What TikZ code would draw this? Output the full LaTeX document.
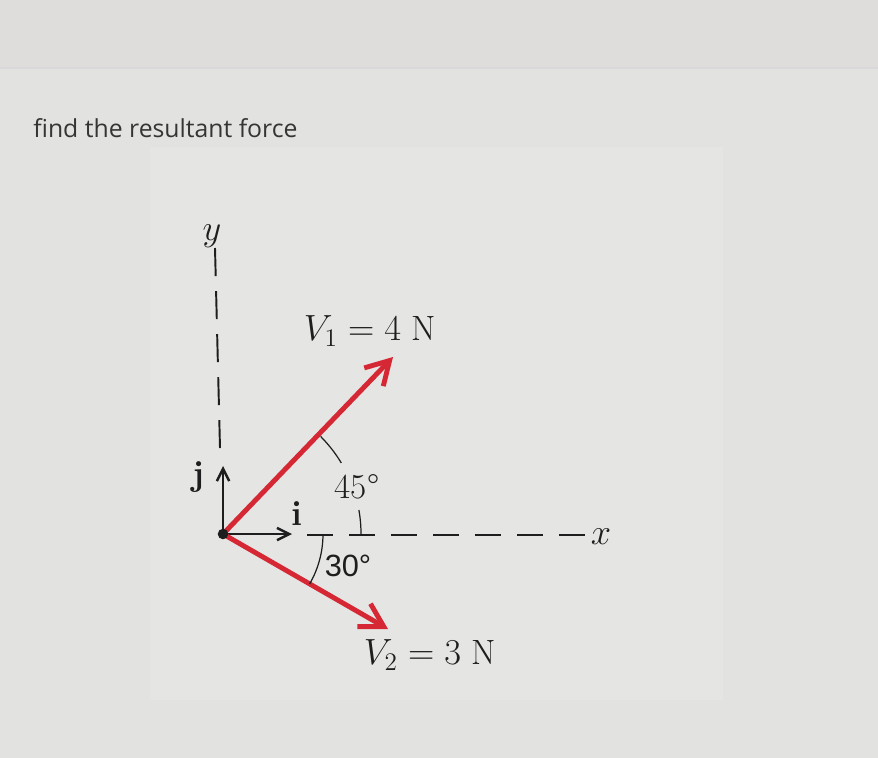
\documentclass[tikz,border=0pt]{standalone}
\usepackage{fontspec}
\newfontfamily\opensans{Open Sans}
\newfontfamily\arialfont{Liberation Sans}
\usetikzlibrary{arrows.meta}

\definecolor{vecred}{RGB}{214,40,52}
\definecolor{paper}{RGB}{226,226,224}
\definecolor{paperlight}{RGB}{229,229,227}
\definecolor{paperdark}{RGB}{222,221,219}
\definecolor{ink}{RGB}{30,30,30}

\tikzset{
	force/.style={vecred, line width=2.8pt, -{Straight Barb[length=13pt,width=15pt]}},
	unitvec/.style={ink, line width=1.4pt, -{Straight Barb[length=7pt,width=7pt]}},
	axisline/.style={ink, line width=1.1pt},
	angarc/.style={ink, line width=0.7pt},
	lbl/.style={text=ink, inner sep=0pt, font=\fontsize{20}{23}\selectfont},
}

\begin{document}
\begin{tikzpicture}[x=0.02cm,y=-0.02cm]
	\useasboundingbox (0,0) rectangle (878,757);
	% background
	\fill[paper] (-5,-5) rectangle (883,762);
	\fill[paperdark] (-5,-5) rectangle (883,68);
	\draw[gray!30, line width=0.6pt] (-5,68) -- (883,68);
	\fill[paperlight] (150,147) rectangle (723,700);

	\node[anchor=west, inner sep=0pt, text=ink!90, font=\opensans\fontsize{14.1}{17}\selectfont] (task) at (33,128) {find the resultant force};

	\coordinate (O) at (223,534);
	\coordinate (V1tip) at (393,357);
	\coordinate (V2tip) at (388,629);

	% axes
	\coordinate (ytop) at (215,248);
	\coordinate (ybot) at (220,448);
	\coordinate (xleft) at (307,535);
	\coordinate (xright) at (585,535);
	\draw[axisline, dash pattern=on 16pt off 8.5pt] (ytop) -- (ybot);
	\draw[axisline, dash pattern=on 14.8pt off 9.1pt] (xleft) -- (xright);
	\node[lbl] (ylbl) at (212,236) {$y$};
	\node[lbl] (xlbl) at (601,537) {$x$};

	% unit vectors
	\coordinate (itip) at (292,534);
	\coordinate (jtip) at (223,466);
	\draw[unitvec] (O) -- (itip);
	\draw[unitvec] (O) -- (jtip);
	\node[lbl] (ilbl) at (297,514) {\textbf{i}};
	\node[lbl] (jlbl) at (199,477) {\textbf{j}};

	% forces
	\draw[force] (O) -- (V1tip);
	\draw[force] (O) -- (V2tip);
	\fill[ink] (O) circle[radius=3pt];
	\node[lbl] (V1lbl) at (370,331) {$V_1 = 4\ \mathrm{N}$};
	\node[lbl] (V2lbl) at (430,655) {$V_2 = 3\ \mathrm{N}$};

	% angles
	\draw[angarc] ([shift={(-45:138)}]O) arc[start angle=-45, end angle=-31, radius=138];
	\draw[angarc] ([shift={(-10:138)}]O) arc[start angle=-10, end angle=0, radius=138];
	\draw[angarc] ([shift={(0:100)}]O) arc[start angle=0, end angle=30, radius=100];
	\node[lbl] (a45) at (357,487) {45°};
	\node[lbl, font=\arialfont\fontsize{17.5}{20}\selectfont] (a30) at (348,566) {30°};
\end{tikzpicture}
\end{document}
